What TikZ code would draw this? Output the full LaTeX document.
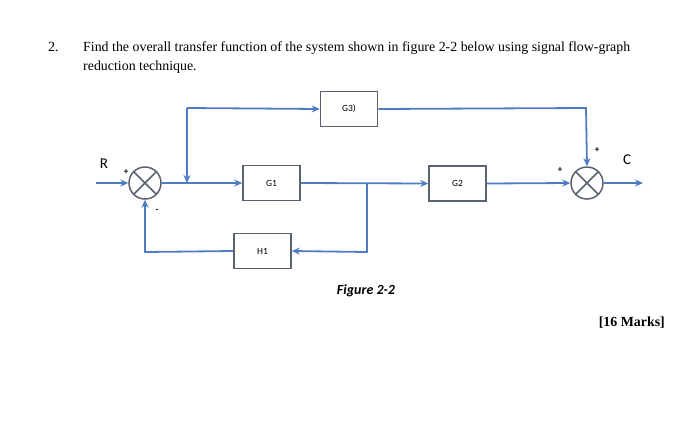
\documentclass[tikz,border=0pt]{standalone}
\usepackage{fontspec}
\setmainfont{Liberation Serif}
\newfontfamily\sans{Carlito}
\usetikzlibrary{arrows.meta}
\definecolor{bl}{HTML}{4F7BC3}
\definecolor{bx}{HTML}{5A6270}
\begin{document}
\begin{tikzpicture}[x=1pt,y=-1pt,
  blk/.style={draw=bx,line width=1.5pt,minimum width=57pt,minimum height=35pt,inner sep=0pt,font=\sans\fontsize{9.5}{10}\selectfont},
  sum/.style={circle,draw=bx,line width=1.5pt,minimum size=32pt,inner sep=0pt},
  sig/.style={draw=bl,line width=1.8pt},
  arr/.style={sig,-{Stealth[length=8pt,width=7pt]}},
  lab/.style={font=\sans\fontsize{15}{15}\selectfont},
  sm/.style={font=\sans\bfseries\fontsize{9}{9}\selectfont}]
\useasboundingbox (0,0) rectangle (700,421);
\node[anchor=base west,font=\fontsize{14}{16}\selectfont,inner sep=0pt] (num) at (48,51) {2.};
\node[anchor=base west,font=\fontsize{13.9}{16}\selectfont,inner sep=0pt] (l1) at (83,51) {Find the overall transfer function of the system shown in figure 2-2 below using signal flow-graph};
\node[anchor=base west,font=\fontsize{13.9}{16}\selectfont,inner sep=0pt] (l2) at (83,70) {reduction technique.};
\node[blk] (g1) at (271.5,183) {G1};
\node[blk] (g3) at (349,109) {G3)};
\node[blk] (g2) at (457.5,183.5) {G2};
\node[blk] (h1) at (262.5,251) {H1};
\node[sum] (s1) at (145,183) {};
\node[sum] (s2) at (587,183) {};
\draw[bx,line width=1.5pt] (s1.north west)--(s1.south east) (s1.north east)--(s1.south west);
\draw[bx,line width=1.5pt] (s2.north west)--(s2.south east) (s2.north east)--(s2.south west);
\coordinate (in) at (96,183);
\coordinate (b1) at (187,183);
\coordinate (t1) at (187,108);
\coordinate (t2) at (586,108);
\coordinate (b2) at (367,183);
\coordinate (b3) at (367,252);
\coordinate (h0) at (145,252);
\coordinate (out) at (643,183);
\draw[arr] (in) -- (s1.west);
\draw[arr] (s1.east) -- (g1.west);
\draw[arr] (t1) -- (g3.west);
\draw[arr] (t1) -- (b1);
\draw[arr] (g3.east) -- (t2) -- (s2.north);
\draw[arr] (g1.east) -- (g2.west);
\draw[arr] (g2.east) -- (s2.west);
\draw[arr] (b2) -- (b3) -- (h1.east);
\draw[arr] (h1.west) -- (h0) -- (s1.south);
\draw[arr] (s2.east) -- (out);
\node[lab] (R) at (104,164) {R};
\node[lab] (C) at (627,160) {C};
\node[sm] (p1) at (126,172) {+};
\node[sm] (m1) at (157,211) {-};
\node[sm] (p2) at (560,170) {+};
\node[sm] (p3) at (597,150) {+};
\node[font=\sans\bfseries\itshape\fontsize{14}{14}\selectfont] (fig) at (366,291) {Figure 2-2};
\node[anchor=base east,font=\bfseries\fontsize{13.9}{16}\selectfont,inner sep=0pt] (mk) at (665,326) {[16 Marks]};
\end{tikzpicture}
\end{document}
